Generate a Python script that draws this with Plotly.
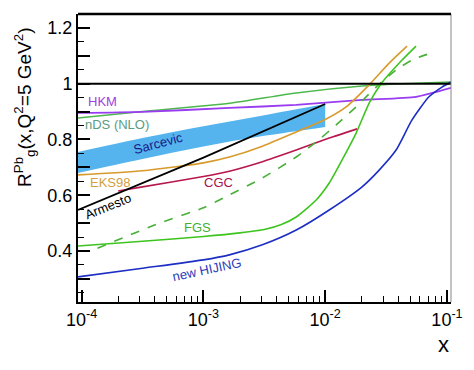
import numpy as np
import plotly.graph_objects as go

# ---- data (log10 x, R value) ----
hkm_lx = [-4.03, -3.5, -2.787, -2.238, -1.697, -1.254, -0.967]
hkm_y = [0.895, 0.899, 0.913, 0.924, 0.942, 0.953, 0.985]

nds_lx = [-4.03, -3.5, -2.787, -2.238, -1.697, -1.369, -0.967]
nds_y = [0.877, 0.900, 0.930, 0.967, 0.992, 1.000, 1.006]

sar_lx = [-4.03, -3.5, -3.0, -2.5, -2.0]
sar_top = [0.755, 0.805, 0.847, 0.887, 0.927]
sar_bot = [0.680, 0.730, 0.775, 0.813, 0.845]

arm_lx = [-4.03, -3.0, -2.0]
arm_y = [0.547, 0.735, 0.927]

eks_lx = [-4.03, -3.5, -3.0, -2.787, -2.516, -2.238, -2.008, -1.828, -1.639, -1.475, -1.328]
eks_y = [0.673, 0.688, 0.716, 0.737, 0.776, 0.827, 0.870, 0.917, 0.996, 1.074, 1.135]

cgc_lx = [-3.70, -3.525, -3.0, -2.787, -2.516, -2.238, -1.967, -1.738]
cgc_y = [0.615, 0.628, 0.667, 0.686, 0.720, 0.762, 0.805, 0.838]

fgsd_lx = [-3.87, -3.36, -3.0, -2.787, -2.516, -2.238, -2.074, -1.910, -1.746, -1.582, -1.418, -1.287, -1.131]
fgsd_y = [0.410, 0.500, 0.555, 0.601, 0.662, 0.737, 0.791, 0.852, 0.917, 0.988, 1.049, 1.085, 1.110]

fgs_lx = [-4.03, -3.5, -3.0, -2.7, -2.5, -2.36, -2.238, -2.074, -1.967, -1.861, -1.746, -1.639, -1.541, -1.369, -1.254]
fgs_y = [0.418, 0.435, 0.452, 0.465, 0.477, 0.495, 0.522, 0.583, 0.644, 0.727, 0.823, 0.930, 1.000, 1.085, 1.135]

hij_lx = [-4.03, -3.5, -3.0, -2.787, -2.516, -2.238, -1.967, -1.697, -1.557, -1.418, -1.287, -1.148, -1.041, -0.967]
hij_y = [0.307, 0.338, 0.368, 0.386, 0.422, 0.475, 0.547, 0.630, 0.690, 0.762, 0.870, 0.953, 0.988, 1.006]

x_range = [-4.03, -0.967]
y_range = [0.217, 1.25]
xtick_vals = [1e-4, 1e-3, 1e-2, 1e-1]
xtick_text = ["10<sup>-4</sup>", "10<sup>-3</sup>", "10<sup>-2</sup>", "10<sup>-1</sup>"]
ytick_vals = [0.3, 0.4, 0.5, 0.6, 0.7, 0.8, 0.9, 1.0, 1.1, 1.2]
ytick_text = ["", "0.4", "", "0.6", "", "0.8", "", "1", "", "1.2"]

def X(lx):
    return [10 ** v for v in lx]

FONT = "Liberation Sans, Arial, sans-serif"
fig = go.Figure()

# Sarcevic band
fig.add_trace(go.Scatter(x=X(sar_lx), y=sar_bot, mode="lines", line=dict(width=0, shape="spline"),
                         showlegend=False, hoverinfo="skip"))
fig.add_trace(go.Scatter(x=X(sar_lx), y=sar_top, mode="lines", line=dict(width=0, shape="spline"),
                         fill="tonexty", fillcolor="#55b4ee", showlegend=False))

def line(lx, y, color, width=1.6, dash="solid"):
    fig.add_trace(go.Scatter(x=X(lx), y=y, mode="lines",
                             line=dict(color=color, width=width, dash=dash, shape="spline", smoothing=0.6),
                             showlegend=False))

line(nds_lx, nds_y, "#4cb84c", 1.5)
line(hkm_lx, hkm_y, "#9a3cf0", 1.8)
line(eks_lx, eks_y, "#d99a2c", 1.6)
line(cgc_lx, cgc_y, "#b8164c", 1.6)
line(fgsd_lx, fgsd_y, "#48b038", 1.6, "dash")
line(fgs_lx, fgs_y, "#3ec41e", 1.6)
line(hij_lx, hij_y, "#1c2ec4", 1.6)
line(arm_lx, arm_y, "#000000", 1.8)

fig.add_hline(y=1.0, line=dict(color="black", width=2))
# right frame edge (grey)
fig.add_shape(type="line", xref="paper", yref="paper", x0=1, x1=1, y0=0, y1=1,
              line=dict(color="#888888", width=1))

labels = [
    dict(text="HKM", lx=-3.967, y=0.935, color="#a040e0", angle=0, xanchor="left"),
    dict(text="nDS (NLO)", lx=-3.99, y=0.852, color="#5c9c80", angle=0, xanchor="left"),
    dict(text="Sarcevic", lx=-3.377, y=0.787, color="#1a1a8a", angle=-15, xanchor="center"),
    dict(text="EKS98", lx=-3.77, y=0.644, color="#d4a040", angle=0, xanchor="center"),
    dict(text="CGC", lx=-2.877, y=0.644, color="#a81050", angle=0, xanchor="center"),
    dict(text="Armesto", lx=-3.787, y=0.558, color="#000000", angle=-22, xanchor="center"),
    dict(text="FGS", lx=-3.049, y=0.486, color="#44b030", angle=0, xanchor="center"),
    dict(text="new HIJING", lx=-2.967, y=0.332, color="#2a3cb8", angle=-12, xanchor="center"),
]
for L in labels:
    fig.add_annotation(x=L["lx"], y=L["y"], xref="x", yref="y", text=L["text"], showarrow=False,
                       textangle=L["angle"], xanchor=L["xanchor"], yanchor="middle",
                       font=dict(family=FONT, size=13, color=L["color"]))

fig.add_annotation(x=-0.142, y=0.674, xref="paper", yref="paper", textangle=-90,
                   xanchor="center", yanchor="middle",
                   text="R<sup>Pb</sup><sub>g</sub>(x,Q<sup>2</sup>=5 GeV<sup>2</sup>)",
                   showarrow=False, font=dict(family=FONT, size=19, color="black"))
fig.add_annotation(x=0.979, y=-0.148, xref="paper", yref="paper", text="x", showarrow=False,
                   xanchor="center", yanchor="middle",
                   font=dict(family=FONT, size=22, color="black"))

fig.update_xaxes(type="log", range=x_range, tickvals=xtick_vals, ticktext=xtick_text,
                 ticks="inside", ticklen=12, tickwidth=1.5, tickcolor="black",
                 showline=True, linecolor="black", linewidth=2, mirror=False,
                 showgrid=False, zeroline=False,
                 tickfont=dict(family=FONT, size=18, color="black"),
                 minor=dict(ticks="inside", ticklen=6, tickwidth=1.2, tickcolor="black",
                            dtick="D1", showgrid=False))
fig.update_yaxes(range=y_range, tickvals=ytick_vals, ticktext=ytick_text,
                 ticks="inside", ticklen=12, tickwidth=1.5, tickcolor="black",
                 showline=True, linecolor="black", linewidth=2,
                 showgrid=False, zeroline=False,
                 tickfont=dict(family=FONT, size=18, color="black"),
                 minor=dict(ticks="inside", ticklen=6, tickwidth=1.2, tickcolor="black",
                            tick0=0.25, dtick=0.1, showgrid=False))
# top frame edge
fig.add_shape(type="line", xref="paper", yref="paper", x0=0, x1=1, y0=1, y1=1,
              line=dict(color="black", width=2.5))

# page body has an 8px margin: figure sized/placed so the plot box lands where the reference has it
fig.update_layout(width=466, height=362, margin=dict(l=70, r=23, t=6, b=68),
                  plot_bgcolor="white", paper_bgcolor="white", showlegend=False,
                  font=dict(family=FONT))
fig.write_html("out.html")
